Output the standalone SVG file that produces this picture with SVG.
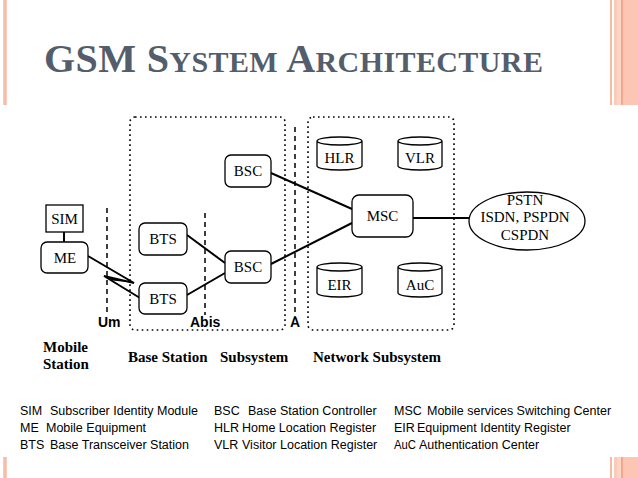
<svg xmlns="http://www.w3.org/2000/svg" width="638" height="478" viewBox="0 0 638 478">
<style>
.node{fill:#fff;stroke:#000;stroke-width:1.3}
.nt{font-family:"Liberation Serif","Times New Roman",serif;font-size:15px;fill:#000;text-anchor:middle}
.lbl{font-family:"Liberation Serif","Times New Roman",serif;font-size:15px;font-weight:bold;fill:#000}
.if{font-family:"Liberation Sans",Arial,sans-serif;font-size:14px;font-weight:bold;fill:#000}
.leg{font-family:"Liberation Sans",Arial,sans-serif;font-size:12.5px;fill:#000}
.conn{stroke:#000;stroke-width:2;fill:none}
.dot{fill:none;stroke:#000;stroke-width:1.6;stroke-dasharray:1.6 3.4}
.dash{stroke:#000;stroke-width:1.5;stroke-dasharray:5 4}
.title{font-family:"Liberation Serif","Times New Roman",serif;font-weight:bold;fill:#535d6c;letter-spacing:0.4px}
</style>
<rect width="638" height="478" fill="#fff"/>
<g id="decor">
<rect x="3" y="0" width="4" height="105" fill="#f9cbbb"/>
<rect x="4.5" y="0" width="1" height="105" fill="#f3b09a"/>
<rect x="3" y="457" width="4" height="21" fill="#f9cbbb"/>
<rect x="4.5" y="457" width="1" height="21" fill="#f3b09a"/>
<rect x="610" y="0" width="2" height="105" fill="#f5bba5"/>
<rect x="614" y="0" width="3" height="105" fill="#fbcbba"/>
<rect x="617" y="0" width="4" height="105" fill="#fdd5c6"/>
<rect x="621" y="0" width="2" height="105" fill="#f4a78c"/>
<rect x="623" y="0" width="15" height="105" fill="#fdc6b4"/>
<rect x="610" y="457" width="2" height="21" fill="#f5bba5"/>
<rect x="614" y="457" width="3" height="21" fill="#fbcbba"/>
<rect x="617" y="457" width="4" height="21" fill="#fdd5c6"/>
<rect x="621" y="457" width="2" height="21" fill="#f4a78c"/>
<rect x="623" y="457" width="15" height="21" fill="#fdc6b4"/>
</g>
<text class="title" x="44" y="72" font-size="40">GSM S<tspan font-size="30">YSTEM</tspan> A<tspan font-size="30">RCHITECTURE</tspan></text>
<g id="boundaries">
<rect class="dot" x="130" y="117" width="155" height="213" rx="5"/>
<rect class="dot" x="308" y="117" width="146" height="213" rx="5"/>
<line class="dash" x1="107" y1="208" x2="107" y2="315"/>
<line class="dash" x1="205" y1="213" x2="205" y2="315"/>
<line class="dash" x1="295" y1="127" x2="295" y2="317"/>
</g>
<g id="connectors">
<line class="conn" x1="64" y1="232" x2="64" y2="242"/>
<path class="conn" d="M88,256 L134,283 L104,276 L140,298" stroke-linejoin="miter"/>
<polygon points="104,276 132,282.5 112,280.5" fill="#000"/>
<line class="conn" x1="187" y1="235" x2="225" y2="263"/>
<line class="conn" x1="187" y1="295" x2="225" y2="273"/>
<line class="conn" x1="271" y1="173" x2="352" y2="209"/>
<line class="conn" x1="271" y1="264" x2="352" y2="223"/>
<line class="conn" x1="413" y1="218" x2="469" y2="218" stroke-width="3"/>
</g>
<g id="SIM"><rect class="node" x="46" y="205" width="37" height="27"/><text class="nt" x="64.5" y="224">SIM</text></g>
<g id="ME"><rect class="node" x="41" y="242" width="47" height="31" rx="6"/><text class="nt" x="65" y="263">ME</text></g>
<g id="BTS1"><rect class="node" x="139" y="223" width="48" height="32" rx="6"/><text class="nt" x="163" y="244">BTS</text></g>
<g id="BTS2"><rect class="node" x="139" y="283" width="48" height="31" rx="6"/><text class="nt" x="163" y="304">BTS</text></g>
<g id="BSC1"><rect class="node" x="225" y="155" width="46" height="32" rx="6"/><text class="nt" x="248" y="176">BSC</text></g>
<g id="BSC2"><rect class="node" x="225" y="251" width="46" height="32" rx="6"/><text class="nt" x="248" y="272">BSC</text></g>
<g id="MSC"><rect class="node" x="352" y="195" width="61" height="42" rx="7"/><text class="nt" x="382.5" y="221">MSC</text></g>
<g id="PSTN"><ellipse class="node" cx="527" cy="221" rx="58" ry="29"/>
<text class="nt" x="525" y="205">PSTN</text><text class="nt" x="525" y="222">ISDN, PSPDN</text><text class="nt" x="525" y="240">CSPDN</text></g>
<g id="HLR"><path class="node" d="M317,141 A22.5,4 0 0 1 362,141 L362,166 A22.5,4 0 0 1 317,166 Z M317,141 A22.5,4 0 0 0 362,141"/><text class="nt" x="339.5" y="163">HLR</text></g>
<g id="VLR"><path class="node" d="M398,141 A22,4 0 0 1 442,141 L442,166 A22,4 0 0 1 398,166 Z M398,141 A22,4 0 0 0 442,141"/><text class="nt" x="420" y="163">VLR</text></g>
<g id="EIR"><path class="node" d="M317,267 A22.5,4 0 0 1 362,267 L362,293 A22.5,4 0 0 1 317,293 Z M317,267 A22.5,4 0 0 0 362,267"/><text class="nt" x="339.5" y="290">EIR</text></g>
<g id="AuC"><path class="node" d="M398,267 A22,4 0 0 1 442,267 L442,293 A22,4 0 0 1 398,293 Z M398,267 A22,4 0 0 0 442,267"/><text class="nt" x="420" y="290">AuC</text></g>
<g id="labels">
<text class="if" x="98" y="327">Um</text>
<text class="if" x="190" y="327">Abis</text>
<text class="if" x="290" y="327">A</text>
<text class="lbl" x="43" y="352">Mobile</text>
<text class="lbl" x="43" y="369">Station</text>
<text class="lbl" x="128" y="362">Base Station</text>
<text class="lbl" x="220" y="362">Subsystem</text>
<text class="lbl" x="313" y="362">Network Subsystem</text>
</g>
<g id="legend" class="leg">
<text x="20" y="415">SIM</text><text x="50" y="415">Subscriber Identity Module</text>
<text x="214" y="415">BSC</text><text x="248" y="415">Base Station Controller</text>
<text x="394" y="415">MSC</text><text x="427" y="415">Mobile services Switching Center</text>
<text x="20" y="432">ME</text><text x="46" y="432">Mobile Equipment</text>
<text x="214" y="432">HLR</text><text x="242" y="432">Home Location Register</text>
<text x="394" y="432">EIR</text><text x="417" y="432">Equipment Identity Register</text>
<text x="20" y="449">BTS</text><text x="50" y="449">Base Transceiver Station</text>
<text x="214" y="449">VLR</text><text x="242" y="449">Visitor Location Register</text>
<text x="394" y="449" textLength="22" lengthAdjust="spacingAndGlyphs">AuC</text><text x="419" y="449">Authentication Center</text>
</g>
</svg>
